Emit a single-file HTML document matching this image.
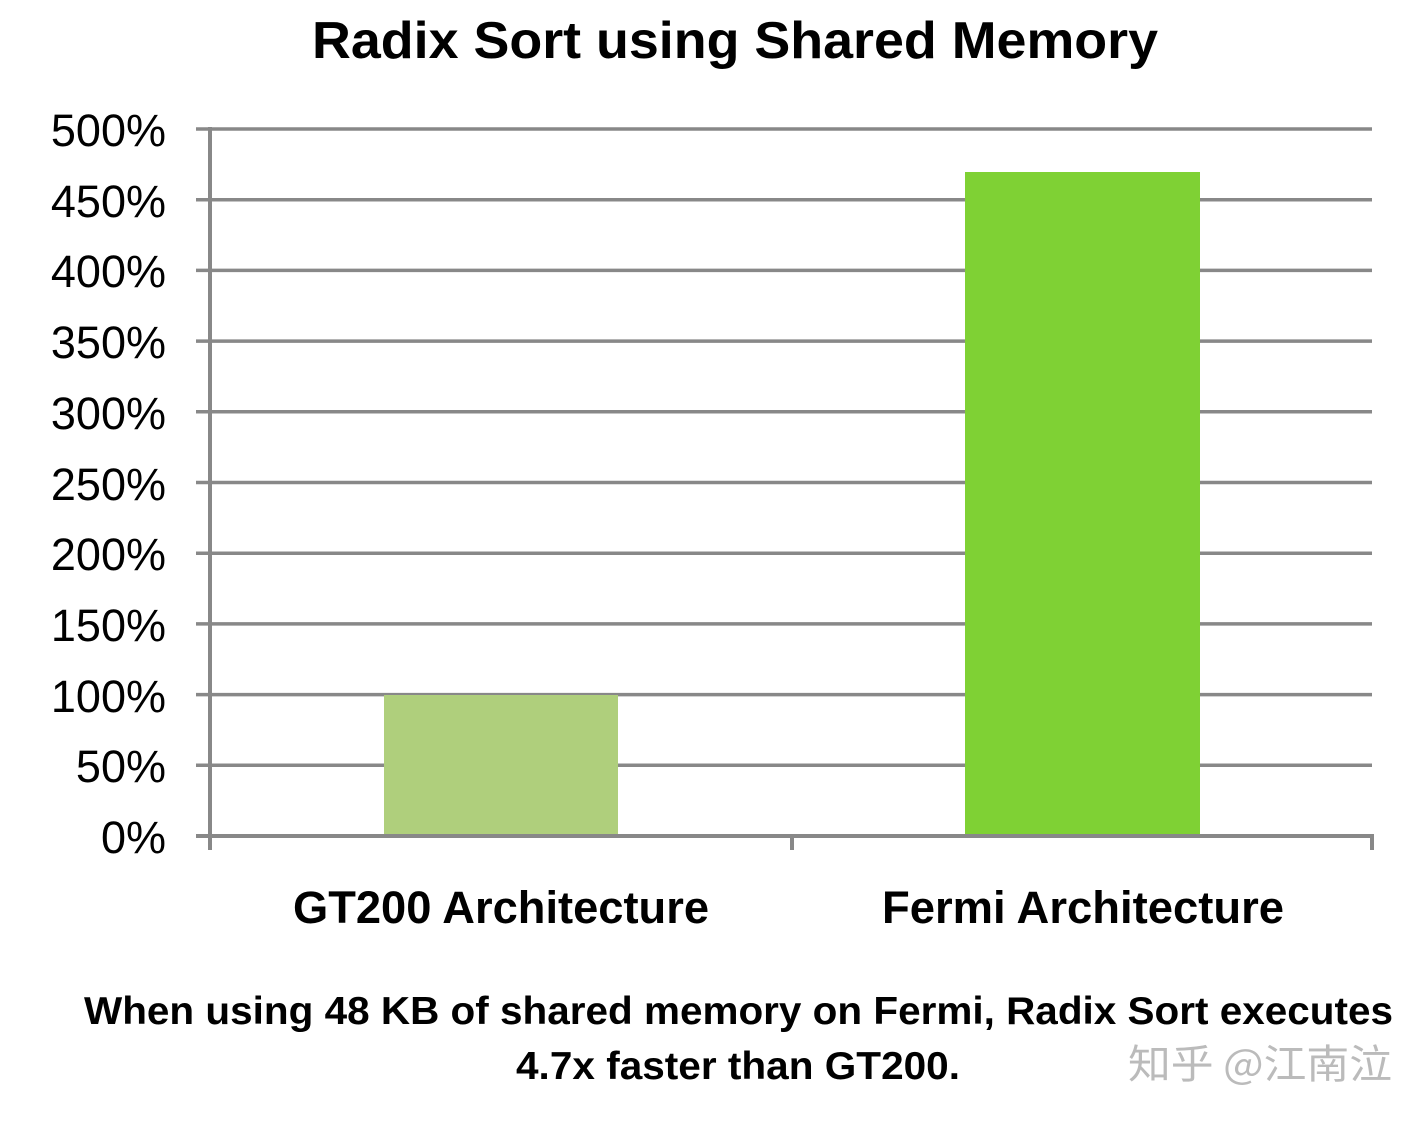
<!DOCTYPE html>
<html><head><meta charset="utf-8"><style>
body{margin:0;background:#fff;}
</style></head><body>
<svg width="1428" height="1122" xmlns="http://www.w3.org/2000/svg" style="display:block">
<rect width="1428" height="1122" fill="#fff"/>
<text x="312" y="58" textLength="846" lengthAdjust="spacingAndGlyphs" font-family="Liberation Sans, sans-serif" font-weight="bold" font-size="52" fill="#000">Radix Sort using Shared Memory</text>
<g stroke="#888" stroke-width="3.5">
<line x1="196" y1="129" x2="1372" y2="129"/>
<line x1="196" y1="199.7" x2="1372" y2="199.7"/>
<line x1="196" y1="270.4" x2="1372" y2="270.4"/>
<line x1="196" y1="341.1" x2="1372" y2="341.1"/>
<line x1="196" y1="411.8" x2="1372" y2="411.8"/>
<line x1="196" y1="482.5" x2="1372" y2="482.5"/>
<line x1="196" y1="553.2" x2="1372" y2="553.2"/>
<line x1="196" y1="623.9" x2="1372" y2="623.9"/>
<line x1="196" y1="694.6" x2="1372" y2="694.6"/>
<line x1="196" y1="765.3" x2="1372" y2="765.3"/>
</g>
<rect x="384" y="695" width="234" height="141" fill="#afcf7c"/>
<rect x="965" y="172" width="235" height="664" fill="#7fd134"/>
<g stroke="#888" stroke-width="4">
<line x1="196" y1="836" x2="1374" y2="836"/>
<line x1="210" y1="127" x2="210" y2="850"/>
<line x1="792" y1="836" x2="792" y2="850"/>
<line x1="1372" y1="836" x2="1372" y2="850"/>
</g>
<g font-family="Liberation Sans, sans-serif" font-size="45" fill="#000" text-anchor="end">
<text x="166" y="146">500%</text>
<text x="166" y="217">450%</text>
<text x="166" y="287">400%</text>
<text x="166" y="358">350%</text>
<text x="166" y="429">300%</text>
<text x="166" y="500">250%</text>
<text x="166" y="570">200%</text>
<text x="166" y="641">150%</text>
<text x="166" y="712">100%</text>
<text x="166" y="782">50%</text>
<text x="166" y="853">0%</text>
</g>
<g font-family="Liberation Sans, sans-serif" font-weight="bold" font-size="45" fill="#000">
<text x="293" y="923" textLength="416" lengthAdjust="spacingAndGlyphs">GT200 Architecture</text>
<text x="882" y="923" textLength="402" lengthAdjust="spacingAndGlyphs">Fermi Architecture</text>
</g>
<g font-family="Liberation Sans, sans-serif" font-weight="bold" font-size="39" fill="#000">
<text x="84" y="1024" textLength="1309" lengthAdjust="spacingAndGlyphs">When using 48 KB of shared memory on Fermi, Radix Sort executes</text>
<text x="516" y="1079" textLength="444" lengthAdjust="spacingAndGlyphs">4.7x faster than GT200.</text>
</g>
<text x="1128" y="1078" textLength="264" lengthAdjust="spacingAndGlyphs" font-family="Noto Sans CJK SC, sans-serif" font-size="40" fill="#bbb">知乎 @江南泣</text>
</svg>
</body></html>
